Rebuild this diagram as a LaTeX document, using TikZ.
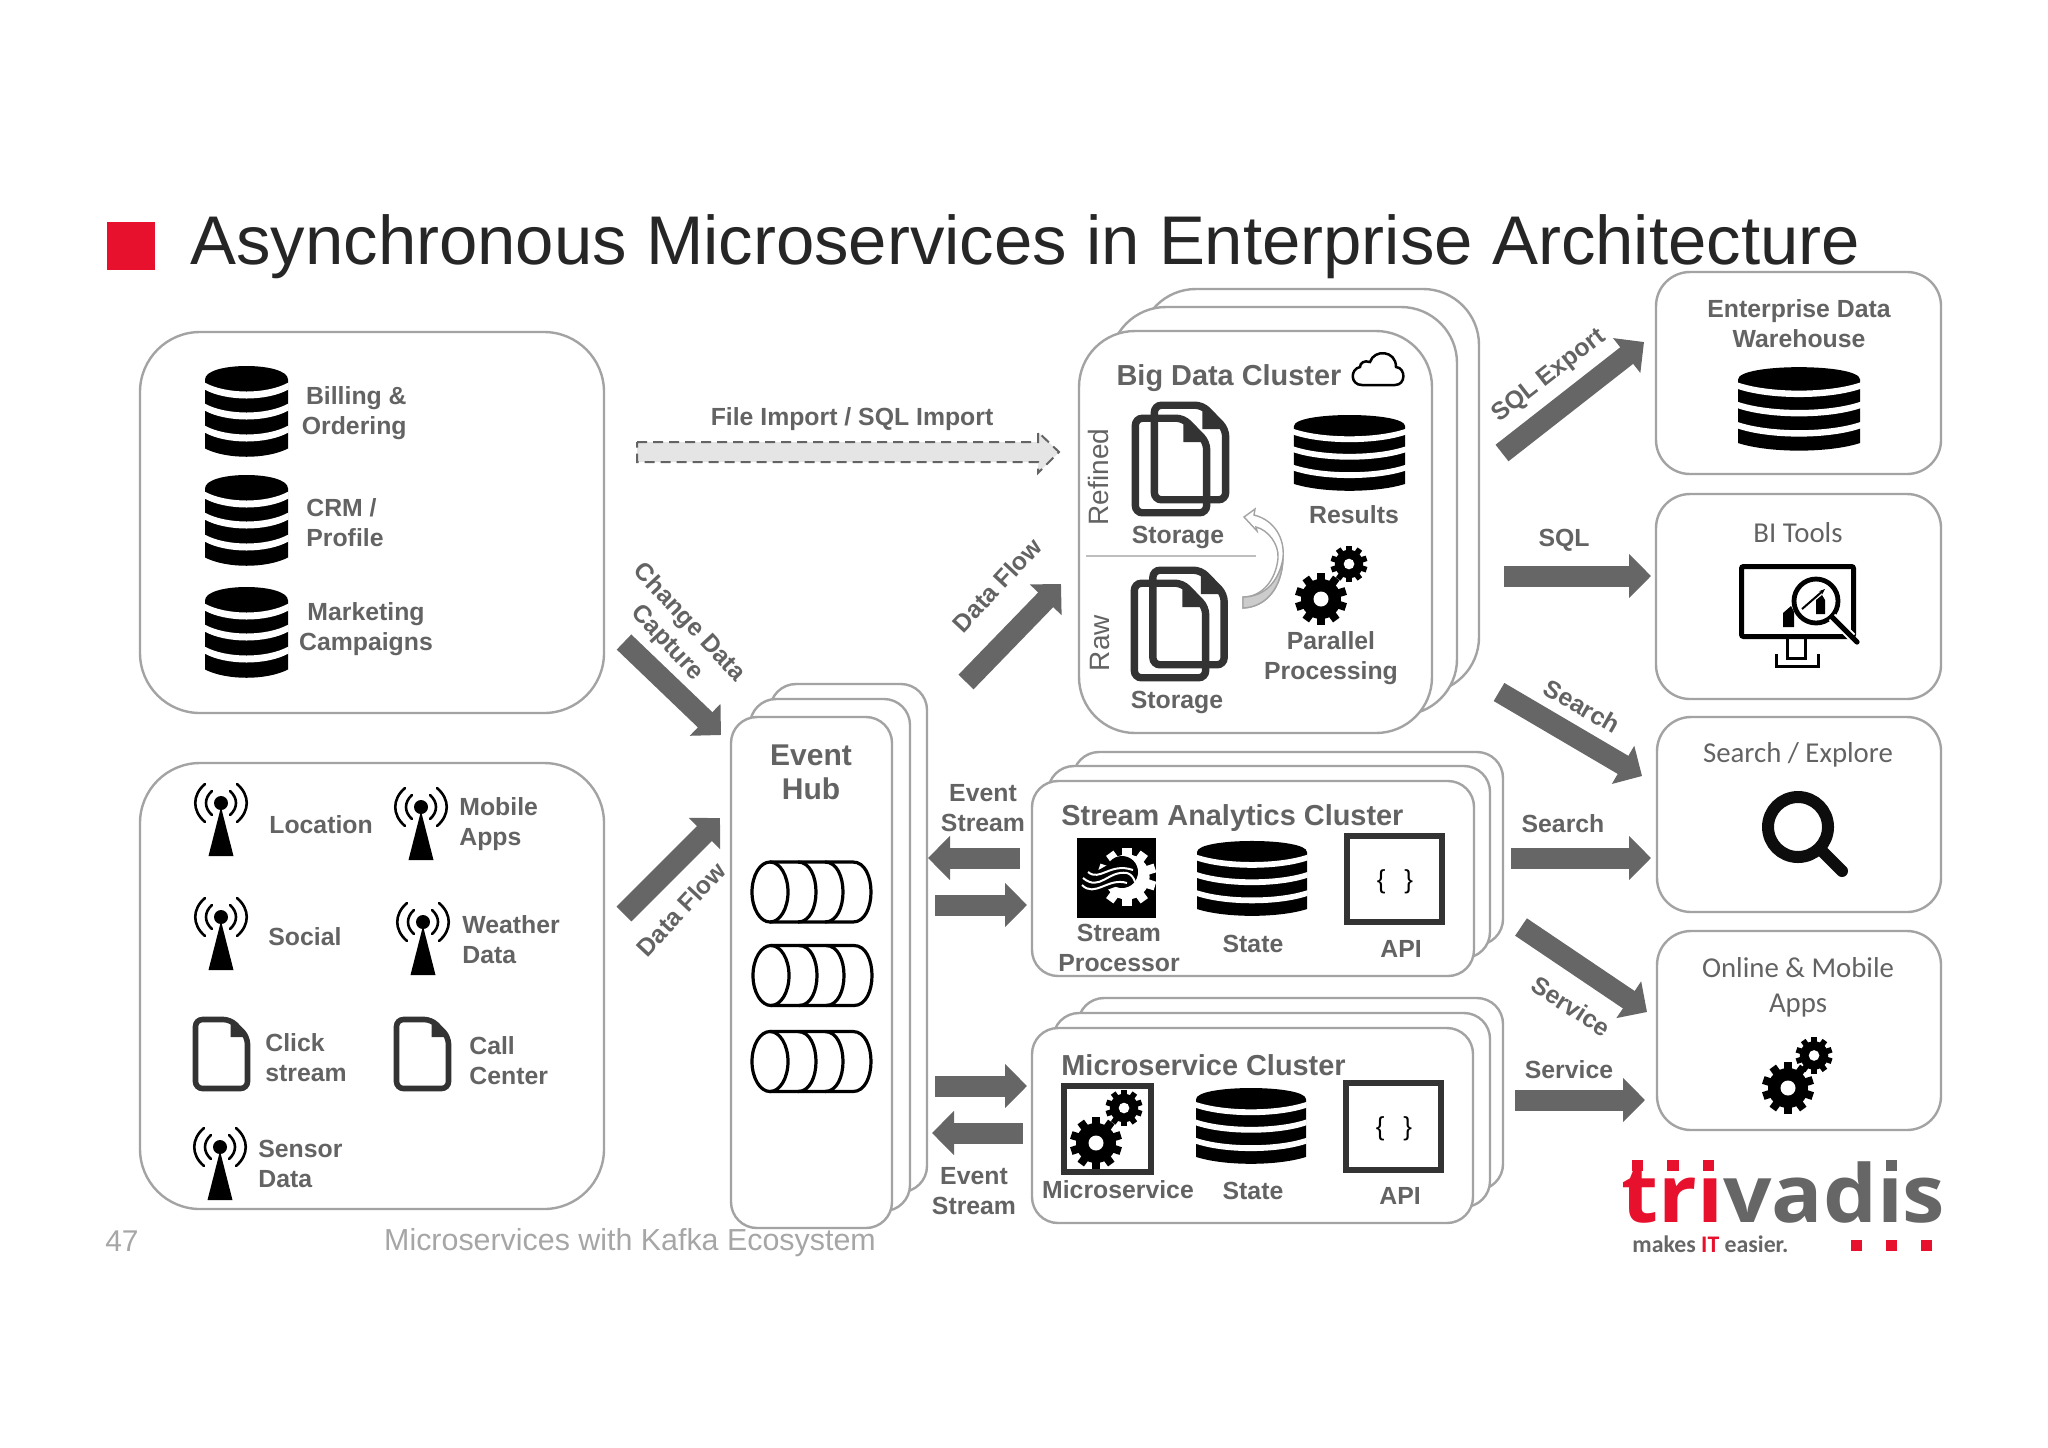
\documentclass[tikz,border=0pt]{standalone}
\usepackage{fontspec}
\setmainfont{Liberation Sans}
\newfontfamily\carlitofont{Carlito}
\newfontfamily\logofont{Open Sans}
\usetikzlibrary{arrows.meta,fit}
\definecolor{txtgray}{HTML}{636363}
\definecolor{boxgray}{HTML}{A3A3A3}
\definecolor{arrowgray}{HTML}{666666}
\definecolor{docgray}{HTML}{333333}
\definecolor{slidered}{HTML}{E8112D}
\definecolor{footgray}{HTML}{A6A6A6}
\newcommand{\dbstripe}[1]{\fill[white] (-42,#1) .. controls (-20,#1+12) and (20,#1+12) .. (42,#1) -- (42,#1+7) .. controls (20,#1+19) and (-20,#1+19) .. (-42,#1+7) -- cycle;}
\tikzset{
  panel/.style={draw=boxgray,fill=white,line width=1.2pt,inner sep=0pt,outer sep=0pt,rounded corners=#1},
  lbl/.style={text=txtgray,inner sep=0pt,align=center,yshift=-.6pt,font=\bfseries\fontsize{12.4}{15}\selectfont},
  lblleft/.style={lbl,align=left,anchor=west},
  titlelbl/.style={lbl,font=\bfseries\fontsize{14.45}{16}\selectfont},
  toollbl/.style={text=txtgray,inner sep=0pt,align=center,yshift=-.6pt,font=\carlitofont\fontsize{14.4}{17.5}\selectfont},
  blockarrow/.style={draw=arrowgray,line width=10.5pt,-{Triangle[length=11pt,width=21.5pt]}},
  dbicon/.pic={
    \fill (-41.5,-32) .. controls (-41.5,-50) and (41.5,-50) .. (41.5,-32) -- (41.5,37) .. controls (20,48) and (-20,48) .. (-41.5,37) -- cycle;
    \dbstripe{-29}\dbstripe{-8}\dbstripe{14}
  },
  antennaicon/.pic={
    \fill (0,0) circle[radius=7];
    \fill (-12.5,53) -- (12.5,53) -- (0,4) -- cycle;
    \draw[line width=1.3pt,line cap=round] (9,-12) .. controls (17,-5) and (17,5) .. (9,12);
    \draw[line width=1.3pt,line cap=round] (-9,-12) .. controls (-17,-5) and (-17,5) .. (-9,12);
    \draw[line width=1.3pt,line cap=round] (16,-19) .. controls (29,-8) and (29,8) .. (16,19);
    \draw[line width=1.3pt,line cap=round] (-16,-19) .. controls (-29,-8) and (-29,8) .. (-16,19);
  },
  docicon/.pic={
    \draw[docgray,rounded corners=3.5pt] (-26,-34.5) -- (9,-34.5) -- (26,-17) -- (26,34.5) -- (-26,34.5) -- cycle;
    \fill[docgray] (9,-34.5) -- (9,-17) -- (26,-17) -- cycle;
  },
  gearicon/.pic={
    \fill (0,0) circle[radius=20];
    \foreach \a in {0,36,...,324}{\fill[rotate=\a] (-4,16) rectangle (4,26);}
    \fill[white] (0,0) circle[radius=7.5];
  },
  gearsicon/.pic={
    \pic at (0,0) {gearicon};
    \pic[scale=.71] at (28,-35) {gearicon};
  },
  queueicon/.pic={
    \draw[line width=1.6pt] (0,-30) -- (83,-30) .. controls (107,-30) and (107,30) .. (83,30) -- (0,30);
    \draw[line width=1.6pt] (55,-30) .. controls (79,-30) and (79,30) .. (55,30);
    \draw[line width=1.6pt] (28,-30) .. controls (52,-30) and (52,30) .. (28,30);
    \draw[line width=1.6pt] (0,0) circle[x radius=18,y radius=30];
  },
}
\begin{document}
\begin{tikzpicture}[x=.5pt,y=-.5pt]
\useasboundingbox (0,0) rectangle (2048,1447);

% header and footer
\fill[slidered] (107,222) rectangle (155,270);
\node[anchor=west,inner sep=0pt,font=\fontsize{34.45}{40}\selectfont,text=black!85] (slide_title) at (190,247) {Asynchronous Microservices in Enterprise Architecture};
\node[inner sep=0pt,font=\fontsize{15}{18}\selectfont,text=footgray] (slide_no) at (122,1241) {47};
\node[inner sep=0pt,font=\fontsize{15.2}{18}\selectfont,text=footgray] (slide_foot) at (630,1243) {Microservices with Kafka Ecosystem};

% sources
\node[panel=30pt,fit={(140,332)(604,713)}] (batch_box) {};
\node[panel=30pt,fit={(140,763)(604,1209)}] (stream_box) {};
\pic at (246.5,411.5) {dbicon};
\pic at (246.5,520.5) {dbicon};
\pic at (246.5,632.5) {dbicon};
\node[lbl,align=right,anchor=east] (billing_lbl) at (407,412) {Billing \&\\Ordering};
\node[lblleft] (crm_lbl) at (306,521) {CRM /\\Profile};
\node[lbl] (marketing_lbl) at (366,628) {Marketing\\Campaigns};

\pic at (221,803) {antennaicon};
\pic at (421,807) {antennaicon};
\pic at (221,917) {antennaicon};
\pic at (423,922) {antennaicon};
\pic at (220,1147) {antennaicon};
\pic[line width=2.8pt] at (221.5,1054) {docicon};
\pic[line width=2.8pt] at (422.5,1054) {docicon};
\node[lblleft] (location_lbl) at (269,823) {Location};
\node[lblleft] (mobile_lbl) at (459,823) {Mobile\\Apps};
\node[lblleft] (social_lbl) at (268,935) {Social};
\node[lblleft] (weather_lbl) at (462,938) {Weather\\Data};
\node[lblleft] (click_lbl) at (265,1056) {Click\\stream};
\node[lblleft] (call_lbl) at (469,1059) {Call\\Center};
\node[lblleft] (sensor_lbl) at (258,1163) {Sensor\\Data};

% event hub
\node[panel=13pt,fit={(770,684)(927,1192)}] (hub_3) {};
\node[panel=13pt,fit={(750,699)(910,1211)}] (hub_2) {};
\node[panel=13pt,fit={(731,717)(892,1228)}] (hub_1) {};
\node[lbl,font=\bfseries\fontsize{15}{17}\selectfont] (hub_lbl) at (811,771) {Event\\Hub};
\pic at (770,892) {queueicon};
\pic at (771,975.5) {queueicon};
\pic at (770,1061.5) {queueicon};

% big data cluster
\node[panel=28pt,fit={(1140,289)(1479,693)}] (big_3) {};
\node[panel=28pt,fit={(1110,307)(1457,715)}] (big_2) {};
\node[panel=28pt,fit={(1079,331)(1432,733)}] (big_1) {};
\node[titlelbl] (big_lbl) at (1229,377) {Big Data Cluster};
\draw[line width=1.25pt] (1362,385) -- (1395,385) .. controls (1406,385) and (1406,368) .. (1396,367) .. controls (1396,350) and (1374,349) .. (1370,362) .. controls (1364,360) and (1360,363) .. (1360,367) .. controls (1350,369) and (1350,385) .. (1362,385) -- cycle;
\node[rotate=90,inner sep=0pt,text=txtgray,font=\fontsize{14}{16}\selectfont] (refined_lbl) at (1098,477) {Refined};
\node[rotate=90,inner sep=0pt,text=txtgray,font=\fontsize{14}{16}\selectfont] (raw_lbl) at (1100,643) {Raw};
\pic[line width=3.7pt,scale=1.37] at (1190,452.5) {docicon};
\pic[line width=3.7pt,scale=1.37] at (1171,465.5) {docicon};
\pic[line width=3.7pt,scale=1.37] at (1188.5,617.5) {docicon};
\pic[line width=3.7pt,scale=1.37] at (1170,630.5) {docicon};
\node[lbl] (storage_lbl_1) at (1178,536) {Storage};
\node[lbl] (storage_lbl_2) at (1177,701) {Storage};
\draw[boxgray!70,line width=.6pt] (1086,556) -- (1256,556);
\pic[xscale=1.34,yscale=.835] at (1349.5,453) {dbicon};
\node[lbl] (results_lbl) at (1354,513) {Results};
\pic at (1321,599) {gearsicon};
\node[lbl] (parallel_lbl) at (1331,657) {Parallel\\Processing};
\filldraw[draw=boxgray,fill=white,line width=.7pt] (1244,517) -- (1255,509) -- (1254,515) .. controls (1274,520) and (1285,538) .. (1283,558) .. controls (1282,588) and (1266,607) .. (1243,608) -- (1243,597) .. controls (1262,597) and (1276,580) .. (1278,558) .. controls (1279,544) and (1268,530) .. (1256,527) -- (1257,531) -- cycle;
\filldraw[draw=boxgray,fill=black!20,line width=.7pt] (1283,558) .. controls (1282,588) and (1266,607) .. (1243,608) -- (1243,597) .. controls (1264,597) and (1279,582) .. (1283,558) -- cycle;

% stream analytics cluster
\node[panel=13pt,fit={(1073,752)(1503,945)}] (stream_3) {};
\node[panel=13pt,fit={(1048,766)(1490,958)}] (stream_2) {};
\node[panel=13pt,fit={(1032,781)(1474,976)}] (stream_1) {};
\node[titlelbl,anchor=west] (stream_lbl) at (1061,817) {Stream Analytics Cluster};
\fill (1077,838) rectangle (1156,918);
\pic[scale=1.13,white] at (1127,877) {gearicon};
\fill (1122,872) circle[radius=16];
\fill (1086,872) .. controls (1100,875) and (1110,858) .. (1125,860) -- (1125,885) .. controls (1110,885) and (1098,900) .. (1082,888) -- cycle;
\draw[white,line width=1pt] (1088,872) .. controls (1100,882) and (1110,862) .. (1133,870);
\draw[white,line width=1pt] (1083,878) .. controls (1100,892) and (1108,870) .. (1127,873) .. controls (1131,874) and (1134,878) .. (1135,882);
\draw[white,line width=1pt] (1082,885) .. controls (1095,898) and (1108,877) .. (1127,883);
\node[lbl] (processor_lbl) at (1119,947) {Stream\\Processor};
\pic[xscale=1.325,yscale=.825] at (1252,878.5) {dbicon};
\node[lbl] (state_lbl_1) at (1253,943) {State};
\draw[docgray,line width=2.6pt] (1347,836) rectangle (1442,922);
\node[inner sep=0pt,font=\fontsize{13}{15}\selectfont] (braces_1) at (1395,882) {\{\,\;\;\}};
\node[lbl] (api_lbl_1) at (1401,948) {API};

% microservice cluster
\node[panel=13pt,fit={(1078,998)(1503,1190)}] (micro_3) {};
\node[panel=13pt,fit={(1053,1013)(1490,1207)}] (micro_2) {};
\node[panel=13pt,fit={(1032,1028)(1473,1223)}] (micro_1) {};
\node[titlelbl,anchor=west] (micro_lbl) at (1061,1064) {Microservice Cluster};
\draw[docgray,line width=2.6pt] (1064,1086) rectangle (1151,1172);
\pic at (1096,1143) {gearsicon};
\node[lbl] (service_lbl) at (1118,1188) {Microservice};
\pic[xscale=1.325,yscale=.835] at (1251,1126) {dbicon};
\node[lbl] (state_lbl_2) at (1253,1190) {State};
\draw[docgray,line width=2.6pt] (1346,1083) rectangle (1441,1170);
\node[inner sep=0pt,font=\fontsize{13}{15}\selectfont] (braces_2) at (1394,1129) {\{\,\;\;\}};
\node[lbl] (api_lbl_2) at (1400,1195) {API};

% consumers
\node[panel=17pt,fit={(1656,272)(1941,474)}] (edw_box) {};
\node[panel=17pt,fit={(1656,494)(1941,699)}] (bi_box) {};
\node[panel=17pt,fit={(1657,717)(1941,912)}] (search_box) {};
\node[panel=17pt,fit={(1657,931)(1941,1130)}] (apps_box) {};
\node[lbl] (edw_lbl) at (1799,322) {Enterprise Data\\Warehouse};
\pic[xscale=1.47,yscale=.92] at (1799,409) {dbicon};
\node[toollbl] (bi_lbl) at (1798,531) {BI Tools};
\node[toollbl] (search_lbl) at (1798,754) {Search / Explore};
\node[toollbl] (apps_lbl) at (1798,986) {Online \& Mobile\\Apps};
\pic[scale=.93] at (1788,1088) {gearsicon};

\draw[line width=2.5pt,rounded corners=1pt] (1741.5,566.5) rectangle (1853.5,636.5);
\draw[line width=1.5pt] (1787,639) -- (1787,658) -- (1805,658) -- (1805,639);
\draw[line width=1.5pt] (1776,654) -- (1776,666) -- (1818,666) -- (1818,654);
\fill (1783,627) -- (1783,613) -- (1791,606) -- (1794,612) -- (1794,627) -- cycle;
\draw[white,line width=2pt,fill=white] (1816,601) circle[radius=22];
\fill (1816,614) -- (1816,600) -- (1822,595) -- (1825,600) -- (1825,614) -- cycle;
\draw[line width=1pt,-{Stealth[length=3pt]}] (1802,609) -- (1825,589);
\draw[line width=2.4pt] (1816,601) circle[radius=22];
\draw[white,line width=4.5pt] (1832,617) -- (1852,637);
\draw[line width=2.6pt,line cap=round] (1832,617) -- (1857,642);

\draw[line width=6pt,color=black!95] (1798,827) circle[radius=30];
\draw[line width=6pt,line cap=round,color=black!95] (1820,849) -- (1842,871);

% connectors
\coordinate (file_tail) at (637,452);
\coordinate (file_head) at (1059,452);
\coordinate (change_tail) at (624,642);
\coordinate (change_head) at (721,735);
\coordinate (flow_tail) at (624,914);
\coordinate (flow_head) at (720,818);
\coordinate (raw_tail) at (966,682);
\coordinate (raw_head) at (1061,584);
\coordinate (export_tail) at (1502,453);
\coordinate (export_head) at (1644,342);
\coordinate (sql_tail) at (1504,576);
\coordinate (sql_head) at (1651,576);
\coordinate (search_tail_1) at (1499,692);
\coordinate (search_head_1) at (1642,776);
\coordinate (search_tail_2) at (1511,858);
\coordinate (search_head_2) at (1651,858);
\coordinate (service_tail_1) at (1521,927);
\coordinate (service_head_1) at (1647,1012);
\coordinate (service_tail_2) at (1515,1100);
\coordinate (service_head_2) at (1645,1100);
\coordinate (es_tail_1) at (1020,858);
\coordinate (es_head_1) at (928,858);
\coordinate (es_tail_2) at (935,905);
\coordinate (es_head_2) at (1027,905);
\coordinate (es_tail_3) at (935,1086);
\coordinate (es_head_3) at (1027,1086);
\coordinate (es_tail_4) at (1023,1133);
\coordinate (es_head_4) at (932,1133);

\draw[blockarrow] (change_tail)--(change_head);
\draw[blockarrow] (flow_tail)--(flow_head);
\draw[blockarrow] (raw_tail)--(raw_head);
\draw[blockarrow] (export_tail)--(export_head);
\draw[blockarrow] (sql_tail)--(sql_head);
\draw[blockarrow] (search_tail_1)--(search_head_1);
\draw[blockarrow] (search_tail_2)--(search_head_2);
\draw[blockarrow] (service_tail_1)--(service_head_1);
\draw[blockarrow] (service_tail_2)--(service_head_2);
\draw[blockarrow] (es_tail_1)--(es_head_1);
\draw[blockarrow] (es_tail_2)--(es_head_2);
\draw[blockarrow] (es_tail_3)--(es_head_3);
\draw[blockarrow] (es_tail_4)--(es_head_4);
\filldraw[fill=black!10,draw=txtgray,line width=1pt,dash pattern=on 5pt off 3pt] (file_tail) ++(0,-10) -- (1038,442) -- (1038,432) -- (file_head) -- (1038,473) -- (1038,462) -- (637,462) -- cycle;

\node[lbl] (file_lbl) at (852,418) {File Import / SQL Import};
\node[lbl,rotate=-47] (change_lbl) at (678,632) {Change Data\\Capture};
\node[lbl,rotate=47] (flow_lbl_1) at (681,908) {Data Flow};
\node[lbl,rotate=47] (flow_lbl_2) at (997,584) {Data Flow};
\node[lbl,rotate=38] (export_lbl) at (1549,375) {SQL Export};
\node[lbl] (sql_lbl) at (1564,539) {SQL};
\node[lbl,rotate=-30] (search_lbl_1) at (1582,705) {Search};
\node[lbl] (search_lbl_2) at (1563,822) {Search};
\node[lbl,rotate=-33] (service_lbl_1) at (1571,1005) {Service};
\node[lbl] (service_lbl_2) at (1569,1068) {Service};
\node[lbl] (es_lbl_1) at (983,807) {Event\\Stream};
\node[lbl] (es_lbl_2) at (974,1190) {Event\\Stream};

% logo
\node[anchor=base west,inner sep=0pt,xscale=1.065,font=\logofont\bfseries\fontsize{40}{44}\selectfont] (logo_lbl) at (1621,1222) {\textcolor{slidered}{trı}\textcolor{arrowgray}{vadıs}};
\fill[slidered] (1632,1160) rectangle (1643,1171);
\fill[slidered] (1667,1160) rectangle (1679,1171);
\fill[slidered] (1703,1160) rectangle (1714,1171);
\fill[arrowgray] (1886,1160) rectangle (1897,1171);
\node[anchor=west,inner sep=0pt,text=arrowgray,font=\carlitofont\bfseries\fontsize{11.9}{13}\selectfont] (logo_tag) at (1632,1244) {makes \textcolor{slidered}{IT} easier.};
\fill[slidered] (1851,1240) rectangle (1862,1251);
\fill[slidered] (1886,1240) rectangle (1897,1251);
\fill[slidered] (1921,1240) rectangle (1932,1251);
\end{tikzpicture}
\end{document}
